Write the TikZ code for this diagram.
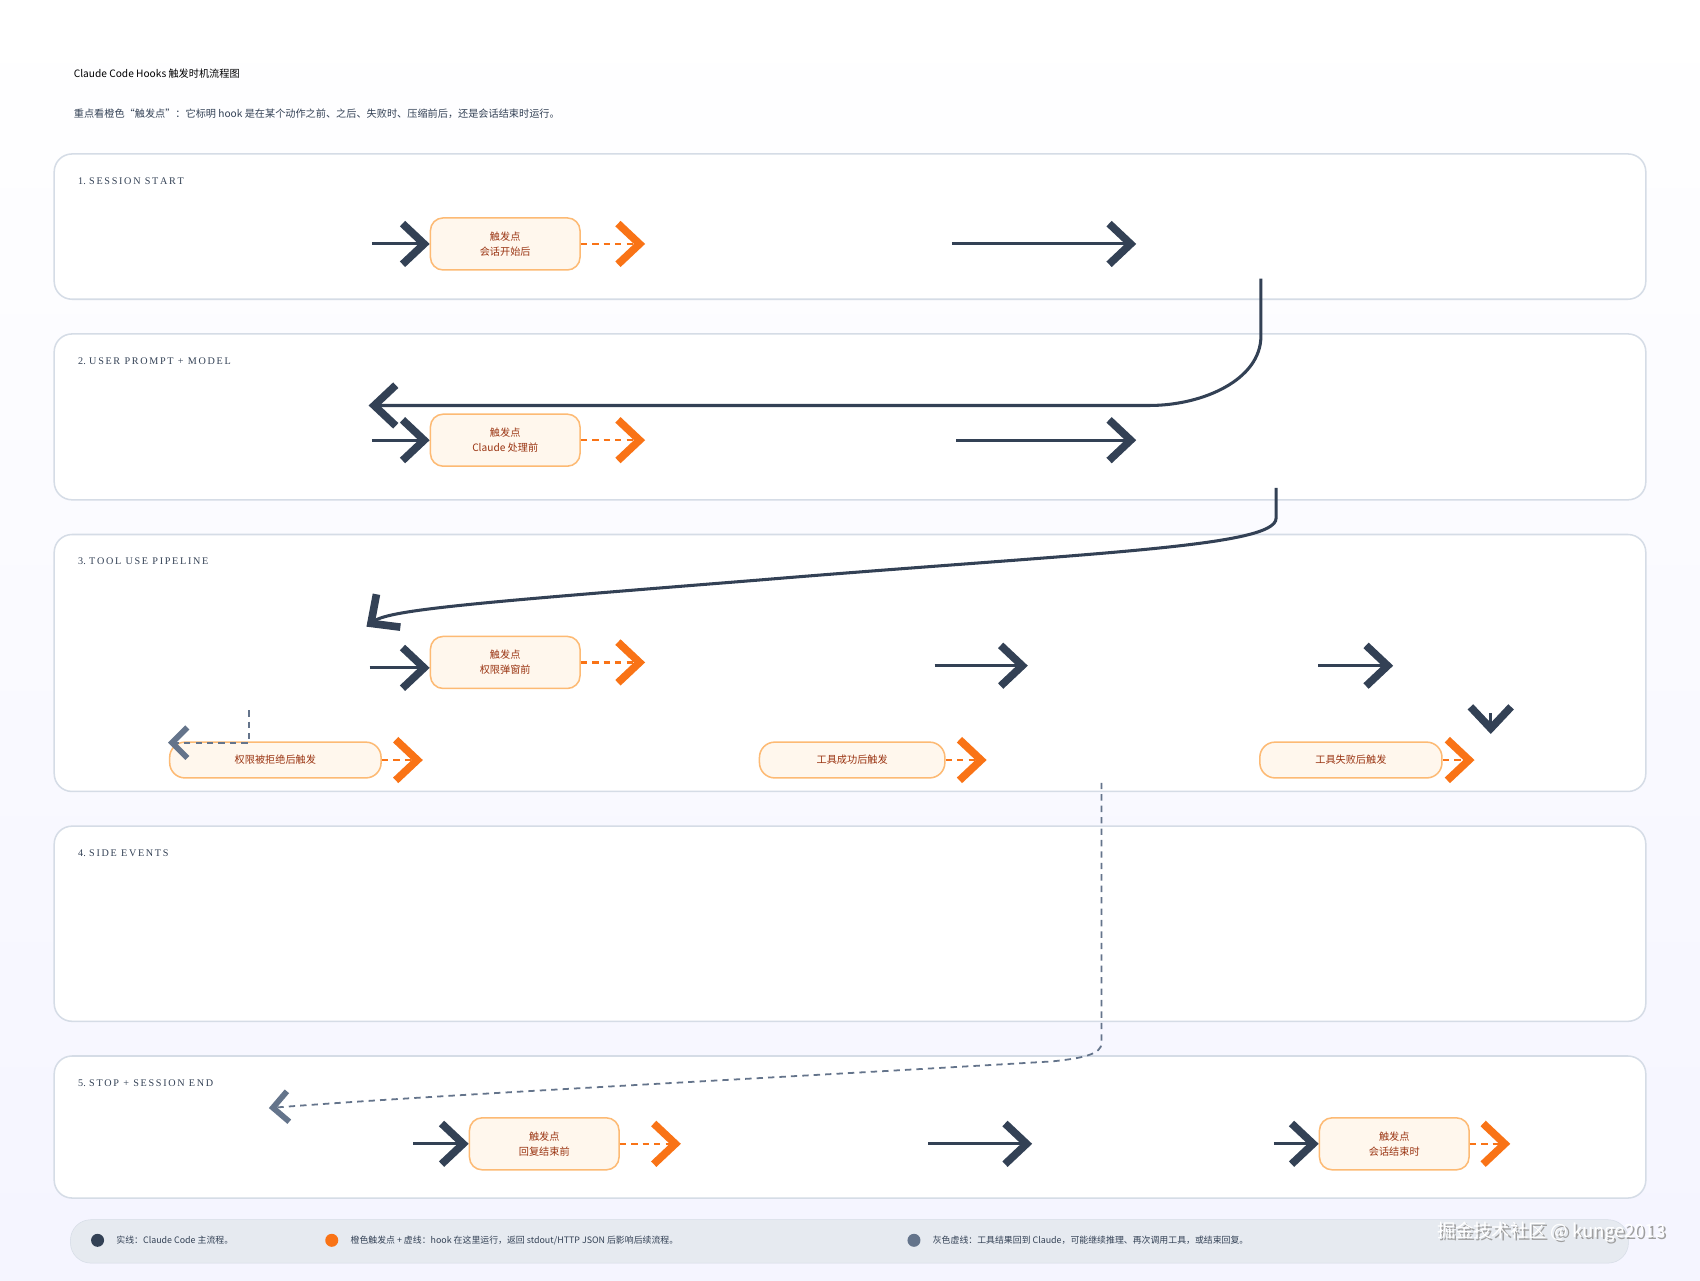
\documentclass[tikz,border=0pt]{standalone}
\usepackage{fontspec}
\setmainfont{Liberation Serif}
\newfontfamily\cjk{Noto Sans CJK SC}
\usetikzlibrary{arrows.meta}
\definecolor{ink}{HTML}{334155}
\definecolor{hook}{HTML}{F97316}
\definecolor{hookfill}{HTML}{FFF7ED}
\definecolor{hookline}{HTML}{FDBA74}
\definecolor{hooktext}{HTML}{9A3412}
\definecolor{lane}{HTML}{D5DCE6}
\definecolor{muted}{HTML}{64748B}
\tikzset{
  panel/.style={draw=lane,line width=1.2pt,fill=white,rounded corners=14pt},
  lanetitle/.style={anchor=west,font=\footnotesize,text=ink},
  hookbox/.style={draw=hookline,line width=1.2pt,fill=hookfill,rounded corners=10pt,minimum width=138*0.3mm,minimum height=48*0.3mm,align=center,font=\footnotesize\cjk,text=hooktext},
  hookpill/.style={hookbox,minimum height=33*0.3mm,rounded corners=12pt},
  main/.style={draw=ink,line width=2.4pt,-{Straight Barb[length=17pt,width=32pt,line width=6pt]}},
  tap/.style={draw=hook,line width=2pt,dash pattern=on 5pt off 4pt,-{Straight Barb[length=17pt,width=32pt,line width=6pt]}},
  back/.style={draw=muted,line width=1.4pt,dash pattern=on 5pt off 4pt,-{Straight Barb[length=12pt,width=24pt,line width=4.5pt]}},
  dot/.style={circle,inner sep=0pt,minimum size=12*0.3mm}
}
\begin{document}
\begin{tikzpicture}[x=0.3mm,y=-0.3mm]
\fill[top color=white,bottom color=blue!4] (0,0) rectangle (1568,1181);
\useasboundingbox (0,0) rectangle (1568,1181);
\node[anchor=west,font=\footnotesize\cjk] (title) at (64,68) {Claude Code Hooks 触发时机流程图};
\node[anchor=west,font=\footnotesize\cjk,text=ink] (sub) at (64,105) {重点看橙色“触发点”：它标明 hook 是在某个动作之前、之后、失败时、压缩前后，还是会话结束时运行。};
\draw[panel] (50,142) rectangle (1518,276);
\draw[panel] (50,308) rectangle (1518,461);
\draw[panel] (50,493) rectangle (1518,730);
\draw[panel] (50,762) rectangle (1518,942);
\draw[panel] (50,974) rectangle (1518,1105);
\node[lanetitle] at (68,167) {1. S\,E\,S\,S\,I\,O\,N\, S\,T\,A\,R\,T};
\node[lanetitle] at (68,333) {2. U\,S\,E\,R\, P\,R\,O\,M\,P\,T\, +\, M\,O\,D\,E\,L};
\node[lanetitle] at (68,518) {3. T\,O\,O\,L\, U\,S\,E\, P\,I\,P\,E\,L\,I\,N\,E};
\node[lanetitle] at (68,787) {4. S\,I\,D\,E\, E\,V\,E\,N\,T\,S};
\node[lanetitle] at (68,999) {5. S\,T\,O\,P\, +\, S\,E\,S\,S\,I\,O\,N\, E\,N\,D};
\node[hookbox] (start) at (466,225) {触发点\\[2pt]会话开始后};
\node[hookbox] (prompt) at (466,406) {触发点\\[2pt]Claude 处理前};
\node[hookbox] (perm) at (466,611) {触发点\\[2pt]权限弹窗前};
\node[hookpill,minimum width=195*0.3mm] (deny) at (254,701) {权限被拒绝后触发};
\node[hookpill,minimum width=171*0.3mm] (ok) at (786,701) {工具成功后触发};
\node[hookpill,minimum width=168*0.3mm] (fail) at (1246,701) {工具失败后触发};
\node[hookbox] (stop) at (502,1055) {触发点\\[2pt]回复结束前};
\node[hookbox] (end) at (1286,1055) {触发点\\[2pt]会话结束时};
\coordinate (s1) at (343,225);
\coordinate (t1) at (595,225);
\coordinate (a1) at (878,225);
\coordinate (b1) at (1048,225);
\coordinate (s2) at (343,406);
\coordinate (t2) at (595,406);
\coordinate (a2) at (882,406);
\coordinate (b2) at (1048,406);
\coordinate (s3) at (341,616);
\coordinate (t3) at (595,611);
\coordinate (a3) at (862,614);
\coordinate (b3) at (948,614);
\coordinate (a4) at (1216,614);
\coordinate (b4) at (1285,614);
\coordinate (a5) at (1375,658);
\coordinate (b5) at (1375,677);
\coordinate (td) at (390,701);
\coordinate (to) at (910,701);
\coordinate (tf) at (1360,701);
\coordinate (s5) at (381,1055);
\coordinate (t5) at (628,1055);
\coordinate (a6) at (856,1055);
\coordinate (b6) at (952,1055);
\coordinate (s6) at (1175,1055);
\coordinate (t6) at (1393,1055);
\coordinate (j1) at (1163,257);
\coordinate (k1) at (340,374);
\coordinate (j2) at (1177,450);
\coordinate (k2) at (338,578);
\coordinate (j3) at (230,655);
\coordinate (k3) at (155,685);
\coordinate (j4) at (1016,722);
\coordinate (k4) at (248,1022);
\draw[main] (s1) -- (start.west);
\draw[tap] (start.east) -- (t1);
\draw[main] (a1) -- (b1);
\draw[main] (s2) -- (prompt.west);
\draw[tap] (prompt.east) -- (t2);
\draw[main] (a2) -- (b2);
\draw[main] (s3) -- (perm.west|-s3);
\draw[tap] (perm.east) -- (t3);
\draw[main] (a3) -- (b3);
\draw[main] (a4) -- (b4);
\draw[main] (a5) -- (b5);
\draw[tap] (deny.east) -- (td);
\draw[tap] (ok.east) -- (to);
\draw[tap] (fail.east) -- (tf);
\draw[main] (s5) -- (stop.west);
\draw[tap] (stop.east) -- (t5);
\draw[main] (a6) -- (b6);
\draw[main] (s6) -- (end.west);
\draw[tap] (end.east) -- (t6);
\draw[main] (j1) -- (1163,310) .. controls (1163,350) and (1110,374) .. (1060,374) -- (k1);
\draw[main] (j2) -- (1177,478) .. controls (1177,505) and (1000,510) .. (700,535) .. controls (450,555) and (360,562) .. (k2);
\draw[back] (j3) -- (230,685) -- (k3);
\draw[back] (j4) -- (1016,962) .. controls (1016,972) and (1000,976) .. (970,979) .. controls (700,995) and (400,1010) .. (k4);
\draw[draw=lane,fill=lane!60,rounded corners=16pt] (65,1125) rectangle (1502,1165);
\node[dot,fill=ink] (d1) at (90,1144) {};
\node[dot,fill=hook] (d2) at (306,1144) {};
\node[dot,fill=muted] (d3) at (843,1144) {};
\node[anchor=west,font=\scriptsize\cjk,text=ink] at (d1.east) {\hspace{6pt}实线：Claude Code 主流程。};
\node[anchor=west,font=\scriptsize\cjk,text=ink] at (d2.east) {\hspace{6pt}橙色触发点 + 虚线：hook 在这里运行，返回 stdout/HTTP JSON 后影响后续流程。};
\node[anchor=west,font=\scriptsize\cjk,text=ink] at (d3.east) {\hspace{6pt}灰色虚线：工具结果回到 Claude，可能继续推理、再次调用工具，或结束回复。};
\node[anchor=east,font=\Large\cjk,text=gray!75] at (1542,1138) {掘金技术社区 @ kunge2013};
\node[anchor=east,font=\Large\cjk,text=white] (mark) at (1540,1136) {掘金技术社区 @ kunge2013};
\end{tikzpicture}
\end{document}
